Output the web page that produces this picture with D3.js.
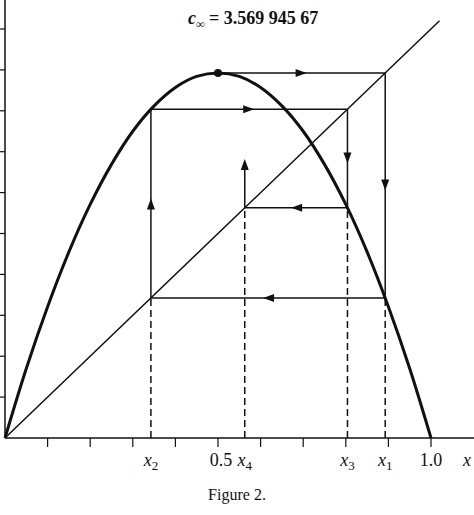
<!DOCTYPE html>
<html><head><meta charset="utf-8">
<script src="https://cdn.jsdelivr.net/npm/d3@7"></script>
<style>body{margin:0;background:#fff}text{font-family:"Liberation Serif",serif;fill:#111}</style>
</head><body><svg id="chart" width="474" height="515"></svg>
<script>
// curve points (x, f(x))
const curveX = [0,0.05,0.1,0.15,0.2,0.25,0.3,0.35,0.4,0.45,0.5,0.55,0.6,0.65,0.7,0.75,0.8,0.85,0.9,0.95,1.0];
const curveY = [0,0.170,0.321,0.455,0.571,0.669,0.750,0.812,0.857,0.884,0.8925,0.884,0.857,0.812,0.750,0.669,0.571,0.455,0.321,0.170,0];
// cobweb orbit values
const orbitNames = ["x1","x2","x3","x4"];
const orbitVals = [0.8925,0.3425,0.8039,0.5628];
const xTicks = [0.1,0.2,0.3,0.4,0.5,0.6,0.7,0.8,0.9,1.0];
const yTicks = [0.1,0.2,0.3,0.4,0.5,0.6,0.7,0.8,0.9,1.0];

const svg = d3.select("#chart");
const x = d3.scaleLinear().domain([0,1]).range([5,431]);
const y = d3.scaleLinear().domain([0,1]).range([438,29]);
const ink = "#111";

// axes
svg.append("line").attr("x1",x(0)).attr("x2",474).attr("y1",y(0)).attr("y2",y(0)).attr("stroke",ink).attr("stroke-width",1.5);
svg.append("line").attr("x1",x(0)).attr("x2",x(0)).attr("y1",y(0)).attr("y2",0).attr("stroke",ink).attr("stroke-width",1.5);
svg.selectAll(".xt").data(xTicks).join("line").attr("x1",d=>x(d)).attr("x2",d=>x(d))
  .attr("y1",y(0)).attr("y2",y(0)+9).attr("stroke",ink).attr("stroke-width",1.2);
svg.selectAll(".yt").data(yTicks).join("line").attr("x1",0).attr("x2",x(0))
  .attr("y1",d=>y(d)).attr("y2",d=>y(d)).attr("stroke",ink).attr("stroke-width",1.2);

// diagonal
svg.append("line").attr("x1",x(0)).attr("y1",y(0)).attr("x2",x(1.02)).attr("y2",y(1.02)).attr("stroke",ink).attr("stroke-width",1.5);

// parabola
const pts = curveX.map((v,i)=>[v,curveY[i]]);
svg.append("path").datum(pts).attr("fill","none").attr("stroke",ink).attr("stroke-width",3)
  .attr("d",d3.line().x(d=>x(d[0])).y(d=>y(d[1])).curve(d3.curveCatmullRom));

// cobweb
const [x1,x2,x3,x4] = orbitVals;
const peak = curveY[10];
const segs = [
  [0.5,peak,x1,peak],[x1,peak,x1,x2],[x1,x2,x2,x2],[x2,x2,x2,x3],
  [x2,x3,x3,x3],[x3,x3,x3,x4],[x3,x4,x4,x4],[x4,x4,x4,0.67]
];
svg.selectAll(".seg").data(segs).join("line")
  .attr("x1",d=>x(d[0])).attr("y1",d=>y(d[1])).attr("x2",d=>x(d[2])).attr("y2",d=>y(d[3]))
  .attr("stroke",ink).attr("stroke-width",1.5);
// arrowheads
segs.forEach((d,i)=>{
  const t = i===7 ? 1 : 0.5;
  const px = x(d[0]+(d[2]-d[0])*t), py = y(d[1]+(d[3]-d[1])*t);
  const ang = Math.atan2(y(d[3])-y(d[1]), x(d[2])-x(d[0]))*180/Math.PI;
  svg.append("path").attr("d","M5,0L-6,-4L-6,4Z").attr("fill",ink)
    .attr("transform",`translate(${px},${py}) rotate(${ang})`);
});
svg.append("circle").attr("cx",x(0.5)).attr("cy",y(peak)).attr("r",4).attr("fill",ink);

// dashed drop lines
svg.selectAll(".dash").data([x1,x2,x3,x4]).join("line")
  .attr("x1",d=>x(d)).attr("x2",d=>x(d)).attr("y1",y(0)).attr("y2",d=>y(d===x1?x2:d===x2?x2:x4))
  .attr("stroke",ink).attr("stroke-width",1.5).attr("stroke-dasharray","7,4");

// labels
const lab = svg.append("g").attr("font-size",18);
function sub(px,name,idx){
  const t = lab.append("text").attr("x",px).attr("y",466).attr("text-anchor","middle");
  t.append("tspan").attr("font-style","italic").text(name);
  t.append("tspan").attr("font-size",13).attr("dy",4).text(idx);
}
sub(x(x2),"x","2");
sub(x(x3),"x","3");
sub(x(x1),"x","1");
lab.append("text").attr("x",x(0.5)+3).attr("y",466).attr("text-anchor","middle").text("0.5");
sub(x(x4),"x","4");
lab.append("text").attr("x",x(1)).attr("y",466).attr("text-anchor","middle").text("1.0");
lab.append("text").attr("x",463).attr("y",466).attr("font-style","italic").text("x");

const title = svg.append("text").attr("x",188).attr("y",24).attr("font-size",18).attr("font-weight","bold");
title.append("tspan").attr("font-style","italic").text("c");
title.append("tspan").attr("font-size",12).attr("dy",4).text("∞");
title.append("tspan").attr("dy",-4).text(" = 3.569 945 67");

svg.append("text").attr("x",237).attr("y",500).attr("text-anchor","middle").attr("font-size",16).text("Figure 2.");
</script></body></html>
